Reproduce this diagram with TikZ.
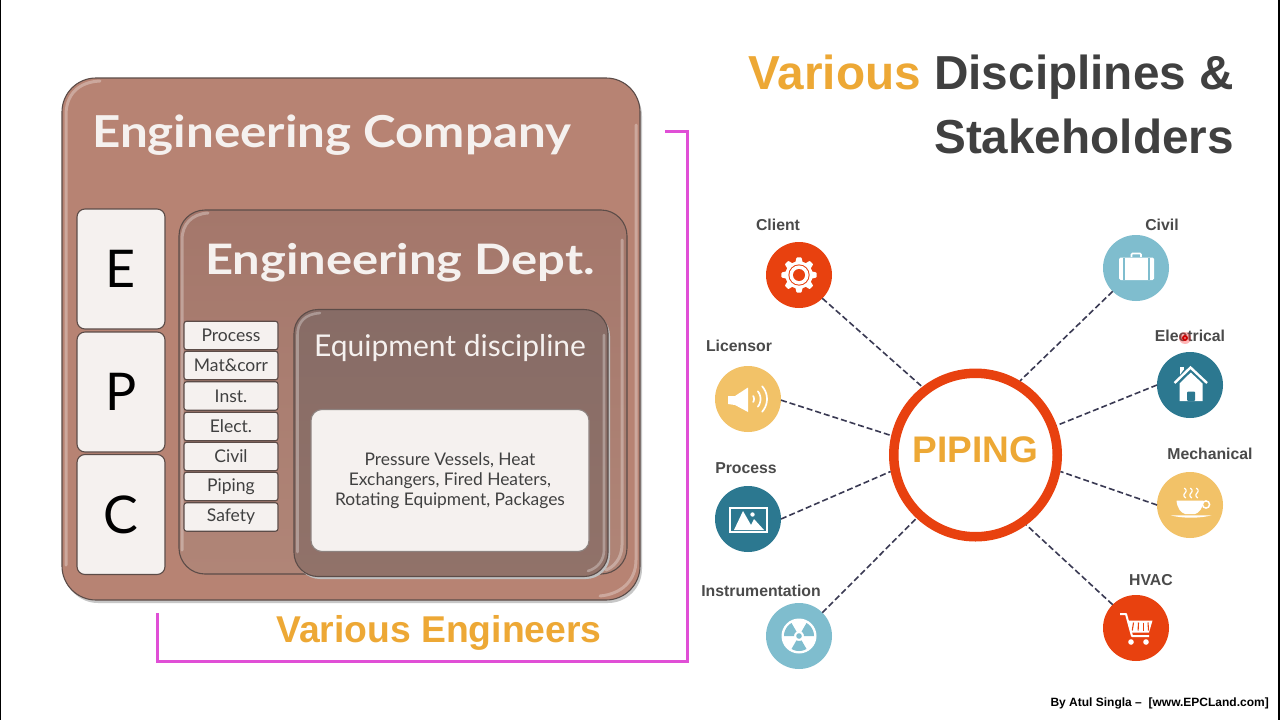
\documentclass[tikz,border=0pt]{standalone}
\usepackage{fontspec}
\setmainfont{Liberation Sans}
\newfontfamily\gill{Lato}
\definecolor{orng}{HTML}{EDA835}
\definecolor{dark}{HTML}{404040}
\definecolor{lab}{HTML}{4A4A4A}
\definecolor{ringred}{HTML}{E8410F}
\definecolor{sand}{HTML}{F2C268}
\definecolor{teal}{HTML}{2C7890}
\definecolor{sky}{HTML}{7FBDCE}
\definecolor{pinkl}{HTML}{E04FD6}
\definecolor{outerf}{HTML}{B78373}
\definecolor{deptt}{HTML}{A4776B}
\definecolor{deptb}{HTML}{B08577}
\definecolor{eqt}{HTML}{876C66}
\definecolor{eqb}{HTML}{917269}
\definecolor{edgec}{HTML}{5C4C48}
\definecolor{paper}{HTML}{F5F1EF}
\tikzset{
  panel/.style={draw=edgec,line width=1.1pt,inner sep=0pt,outer sep=0pt,rectangle},
  paperbox/.style={panel,fill=paper,text=black},
  shine/.style={draw=white,line width=3pt,opacity=.3,line cap=round},
  big/.style={text=paper,anchor=base west,inner sep=0pt},
  tag/.style={paperbox,rounded corners=2.5pt,minimum width=94pt,minimum height=28.5pt,font=\gill\fontsize{17.5}{18}\selectfont,text=dark},
  letterbox/.style={paperbox,rounded corners=8pt,minimum width=88pt,minimum height=120pt,font=\gill\fontsize{52}{52}\selectfont},
  sat/.style={circle,minimum size=66pt,inner sep=0pt,outer sep=0pt},
  lbl/.style={font=\bfseries\fontsize{15.8}{16}\selectfont,text=lab,inner sep=0pt},
  link/.style={draw=dark!90!blue,line width=1.6pt,dash pattern=on 6pt off 3pt},
  ttl/.style={font=\bfseries\fontsize{47.7}{48}\selectfont,anchor=base east,inner sep=0pt},
}
\begin{document}
\begin{tikzpicture}[x=1pt,y=-1pt]
\useasboundingbox (0,0) rectangle (1280,720);
\fill[white] (0,0) rectangle (1280,720);
\fill[black] (0,0) rectangle (1.4,720);
\fill[black] (1278,0) rectangle (1280,720);

% outer panel
\fill[black!22,rounded corners=34pt] (64,82) rectangle (642,603);
\node[panel,fill=outerf,rounded corners=34pt,minimum width=578pt,minimum height=522pt] (company) at (351,339) {};
\draw[shine] (66,565) -- (66,115) .. controls (66,95) and (78,82) .. (100,81);
\draw[shine] (636,125) -- (636,560) .. controls (636,580) and (622,594) .. (600,596);
\node[big,font=\gill\bfseries\fontsize{44}{44}\selectfont] (companyt) at (92,147) {\scalebox{1.12}[1]{Engineering Company}};

% E P C
\node[letterbox] (e) at (121,269) {E};
\node[letterbox] (p) at (121,392) {P};
\node[letterbox] (c) at (121,514.5) {C};

% dept panel
\node[panel,top color=deptt,bottom color=deptb,rounded corners=26pt,minimum width=448pt,minimum height=364pt] (dept) at (403,392) {};
\draw[shine] (182,550) -- (182,240) .. controls (182,224) and (192,214) .. (208,213);
\draw[shine] (622,240) -- (622,545) .. controls (622,558) and (614,567) .. (606,570);
\node[big,font=\gill\bfseries\fontsize{42}{42}\selectfont] (deptt) at (205,274) {\scalebox{1.165}[1]{Engineering Dept.}};

% discipline tags
\node[tag] (t1) at (231,335.5) {Process};
\node[tag] (t2) at (231,365.5) {Mat\&corr};
\node[tag] (t3) at (231,396) {Inst.};
\node[tag] (t4) at (231,426.5) {Elect.};
\node[tag] (t5) at (231,456.5) {Civil};
\node[tag] (t6) at (231,486.5) {Piping};
\node[tag] (t7) at (231,517) {Safety};

% equipment panel
\fill[black!25,rounded corners=24pt] (296,312) rectangle (610,579);
\node[panel,top color=eqt,bottom color=eqb,rounded corners=24pt,minimum width=314pt,minimum height=267pt] (equip) at (451,443) {};
\draw[shine,line width=2.6pt] (297.5,552) -- (297.5,335) .. controls (297.5,322) and (305,314) .. (320,313);
\draw[shine,line width=2.6pt] (604,335) -- (604,550) .. controls (604,560) and (598,568) .. (588,571);
\node[font=\gill\fontsize{30}{30}\selectfont,text=paper,anchor=base,inner sep=0pt] (equipt) at (450,356) {Equipment discipline};
\node[paperbox,draw=edgec!70,rounded corners=11pt,minimum width=278pt,minimum height=142pt,align=center,
      font=\gill\fontsize{17.4}{20.2}\selectfont,text=dark] (detail) at (450,480.5)
  {Pressure Vessels, Heat\\Exchangers, Fired Heaters,\\Rotating Equipment, Packages};

% pink bracket
\coordinate (ba) at (665,131);
\coordinate (bb) at (157,613);
\draw[pinkl,line width=3pt] (ba) -- (687,131) -- (687,661) -- (157,661) -- (bb);
\node[font=\bfseries\fontsize{37.3}{37}\selectfont,text=orng,anchor=base west,inner sep=0pt] (eng) at (276,642) {Various Engineers};

% title
\node[ttl,text=dark] (t1a) at (1234,89) {\textcolor{orng}{Various} Disciplines \&};
\node[ttl,text=dark] (t2a) at (1234,153) {Stakeholders};

% hub
\node[circle,draw=ringred,fill=white,line width=9.5pt,minimum size=163.5pt,inner sep=0pt,
      font=\bfseries\fontsize{37}{37}\selectfont,text=orng] (hub) at (975.5,455) {\raisebox{10pt}{PIPING}};

% satellites
\node[sat,fill=ringred] (client) at (799,275) {};
\node[sat,fill=sand] (licensor) at (748,399) {};
\node[sat,fill=teal] (process) at (748,519) {};
\node[sat,fill=sky] (instr) at (799,636) {};
\node[sat,fill=sky] (civil) at (1136,268) {};
\node[sat,fill=teal] (elec) at (1190,385) {};
\node[sat,fill=sand] (mech) at (1190,505) {};
\node[sat,fill=ringred] (hvac) at (1136,628) {};

% connectors
\draw[link] (client.-45) -- (hub.128);
\draw[link] (licensor.-2) -- (hub.167);
\draw[link] (process.0) -- (hub.191);
\draw[link] (instr.45) -- (hub.227);
\draw[link] (civil.225) -- (hub.59);
\draw[link] (elec.180) -- (hub.20);
\draw[link] (mech.180) -- (hub.-11);
\draw[link] (hvac.135) -- (hub.-54);

% labels
\node[lbl] (lclient) at (778,225) {Client};
\node[lbl] (llic) at (739,346) {Licensor};
\node[lbl] (lproc) at (746,468) {Process};
\node[lbl] (linst) at (761,591) {Instrumentation};
\node[lbl] (lcivil) at (1162,225) {Civil};
\node[lbl] (lelec) at (1190,336) {Electrical};
\node[lbl] (lmech) at (1210,454) {Mechanical};
\node[lbl] (lhvac) at (1151,580) {HVAC};

% pointer dot
\fill[red!80!white,opacity=.35] (1185,338) circle[radius=6pt];
\fill[red!80!black] (1185,338) circle[radius=3pt];
\fill[white,opacity=.5] (1185,338) circle[radius=1.1pt];

% gear
\begin{scope}[shift={(799,275)}]
  \fill[white] plot[domain=0:360,samples=161] ({(15.6+2*min(1,max(-1,2.2*cos(8*\x))))*cos(\x)},{(15.6+2*min(1,max(-1,2.2*cos(8*\x))))*sin(\x)}) -- cycle;
  \fill[ringred] (0,0) circle[radius=10.6pt];
  \fill[white] (0,0) circle[radius=9.6pt];
  \fill[ringred] (0,0) circle[radius=6pt];
\end{scope}

% speaker
\begin{scope}[shift={(748,399)}]
  \fill[white] (-20,-3) -- (-13,-3) -- (0,-11.5) -- (0,13) -- (-13,6) -- (-20,5) -- cycle;
  \foreach \r/\s in {6/30,12.5/38,19/42}
    \draw[white,line width=1.7pt,line cap=round] plot[domain=-\s:\s,samples=11,smooth] ({\r*cos(\x)},{\r*sin(\x)});
\end{scope}

% picture
\begin{scope}[shift={(748,519)}]
  \draw[white,line width=1.4pt] (-18,-11) rectangle (19,13);
  \fill[white] (-14,11) -- (-5,-8) -- (3,6) -- (6,0) -- (16,11) -- cycle;
  \fill[white] (4.5,-4.5) circle[radius=2.2pt];
\end{scope}

% radiation
\begin{scope}[shift={(799,636)}]
  \fill[white] (0,0) circle[radius=17.5pt];
  \foreach \a in {-150,-30,90}
    \fill[sky] plot[domain=\a-30:\a+30,samples=9] ({15*cos(\x)},{15*sin(\x)}) -- plot[domain=\a+30:\a-30,samples=5] ({5*cos(\x)},{5*sin(\x)}) -- cycle;
  \fill[sky] (0,0) circle[radius=2.8pt];
\end{scope}

% briefcase
\begin{scope}[shift={(1136,268)}]
  \draw[white,line width=1.6pt,rounded corners=1pt] (-4.5,-11) -- (-4.5,-14.5) -- (5,-14.5) -- (5,-11);
  \fill[white,rounded corners=1.5pt] (-17,-10.5) rectangle (18,12);
  \draw[sky,line width=1.1pt] (-12,-10.5) -- (-12,12) (13,-10.5) -- (13,12);
\end{scope}

% house
\begin{scope}[shift={(1190,385)}]
  \fill[white] (-10.5,-18) rectangle (-6,-7);
  \fill[teal] (-6.8,-14.5) -- (2,-21) -- (19,-3) -- (-17,0) -- cycle;
  \draw[white,line width=2.4pt] (-15.5,-2) -- (0.5,-17.5) -- (17,-2);
  \fill[white] (-10.5,-1.5) -- (0.8,-12.5) -- (12.5,-1.5) -- (12.5,16) -- (-10.5,16) -- cycle;
  \fill[teal,rounded corners=1pt] (-3,16) -- (-3,6.5) -- (5,6.5) -- (5,16) -- cycle;
\end{scope}

% cup
\begin{scope}[shift={(1190,505)}]
  \fill[white] (-13.5,-4.5) -- (13.5,-4.5) .. controls (13,3) and (9,8) .. (5,9) -- (-5,9) .. controls (-9,8) and (-13,3) .. (-13.5,-4.5) -- cycle;
  \draw[white,line width=1.5pt] (16,-.5) circle[radius=3.6pt];
  \fill[white] (-19.5,10.3) .. controls (-8,13.5) and (10,13.5) .. (21.5,10.3) .. controls (10,10.5) and (-8,10.5) .. (-19.5,10.3) -- cycle;
  \foreach \o in {-5,1,7}
    \draw[white,line width=1.2pt] plot[domain=0:360,samples=21,smooth] ({\o+1.5*sin(\x)+(\x/360-.5)*1.5},{-17+\x/36});
\end{scope}

% cart
\begin{scope}[shift={(1136,628)}]
  \draw[white,line width=2pt,line join=round] (-16,-14) -- (-10,-14) -- (-4,8) -- (13,8);
  \fill[white] (-8.5,-7.5) -- (16.5,-7.5) -- (13,4.5) -- (-5.5,4.5) -- cycle;
  \foreach \x/\t in {-2.5/-2,2.5/0,7.5/1,12/2.3}
    \draw[ringred,line width=1.1pt] (\x,-5.5) -- (\x+\t*.4-.4,2.5);
  \fill[white] (-5,14) circle[radius=2.8pt] (10,14) circle[radius=2.8pt];
\end{scope}

% credit
\node[font=\bfseries\fontsize{12}{12}\selectfont,text=black,anchor=base east,inner sep=0pt] (credit) at (1269,706) {By Atul Singla –\ \ [www.EPCLand.com]};
\end{tikzpicture}
\end{document}
